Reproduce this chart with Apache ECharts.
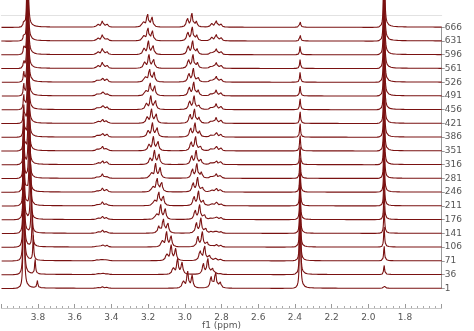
<!DOCTYPE html>
<html>
<head>
<meta charset="utf-8">
<script src="https://cdn.jsdelivr.net/npm/echarts@6/dist/echarts.min.js"></script>
<style>html,body{margin:0;padding:0;background:#fff}#c{width:474px;height:331px}</style>
</head>
<body>
<div id="c"></div>
<script>
// ---- data ----
const traceLabels = ['1','36','71','106','141','176','211','246','281','316','351','386','421','456','491','526','561','596','631','666'];
const xTicks = [3.8,3.6,3.4,3.2,3.0,2.8,2.6,2.4,2.2,2.0,1.8];
// moving triplet A (centre ppm / centre height)
const groupAShift = [2.985,3.040,3.075,3.100,3.118,3.132,3.143,3.152,3.160,3.166,3.172,3.177,3.182,3.186,3.190,3.193,3.196,3.199,3.202,3.204];
const groupAHeight = [17,16,16,15.5,15.5,15,15,15,15,14.5,14.5,14.5,14.5,14,14,14,14,14,14,14];
// moving triplet B
const groupBShift = [2.833,2.875,2.893,2.905,2.913,2.920,2.926,2.931,2.935,2.939,2.942,2.945,2.948,2.950,2.952,2.954,2.956,2.958,2.960,2.962];
const groupBHeight = [17,16,16,15.5,15.5,15,15,15,15,14.5,14.5,14.5,14.5,14,14,14,14,14,14,14];
// static small triplet C at 2.83 ppm
const groupCHeight = [0,1.5,2.5,3,3.5,4,4.5,4.5,5,5,5.5,5.5,6,6,6,6.5,6.5,6.5,7,7];
// static small triplet at 3.45 ppm
const group345Height = [1.5,2,2.5,3,3.5,3.5,4,4,4.5,4.5,5,5,5,5.5,5.5,5.5,6,6,6,6];
// singlet 3.878 ppm (decreasing)
const peak3878Height = [160,150,140,125,110,95,80,65,50,40,32,26,20,16,13,11,9,8,7,6];
// moving singlet near 3.85 ppm (increasing)
const peakMovShift = [3.804,3.816,3.826,3.831,3.836,3.840,3.843,3.846,3.848,3.850,3.851,3.852,3.853,3.854,3.855,3.855,3.856,3.856,3.857,3.857];
const peakMovHeight = [8,16,25,35,45,55,65,75,85,95,100,105,110,115,120,125,130,135,140,145];
// singlet 2.372 ppm (decreasing)
const peak237Height = [110,85,68,55,45,38,32,27,23,20,17,15,13,12,11,10,9,8.5,8,7.5];
// singlet 1.914 ppm (increasing)
const peak191Height = [3.5,10,16,22,28,34,40,46,52,58,64,70,75,80,85,90,95,100,105,110];
const traceStep = 14; // intensity units between stacked traces

// ---- build line shapes ----
function lor(x, x0, h, w, disp) {
  const u = (x0 - x) / (w / 2);
  return h / (1 + u * u) + (disp || 0) * h * u / (1 + u * u);
}
function spectrum(i) {
  const pts = [];
  const J = 0.0245;
  for (let k = 0; k <= 2400; k++) {
    const x = 1.6 + k * 0.001;
    let y = 0;
    const a = groupAShift[i], ha = groupAHeight[i];
    y += lor(x, a + J, 0.45 * ha, 0.011) + lor(x, a, ha, 0.011) + lor(x, a - J, 0.75 * ha, 0.011);
    const b = groupBShift[i], hb = groupBHeight[i];
    y += lor(x, b + J, 0.7 * hb, 0.011) + lor(x, b, hb, 0.011) + lor(x, b - J, 0.4 * hb, 0.011);
    const hc = groupCHeight[i];
    y += lor(x, 2.855, 0.55 * hc, 0.011) + lor(x, 2.830, hc, 0.011) + lor(x, 2.805, 0.55 * hc, 0.011);
    const hs = group345Height[i];
    y += lor(x, 3.475, 0.55 * hs, 0.011) + lor(x, 3.450, hs, 0.011) + lor(x, 3.426, 0.6 * hs, 0.011);
    y += lor(x, 3.878, peak3878Height[i], 0.006, 0.06);
    y += lor(x, peakMovShift[i], peakMovHeight[i], 0.006, 0.06);
    y += lor(x, 2.372, peak237Height[i], 0.006, 0.05);
    y += lor(x, 1.914, peak191Height[i], 0.006, 0.08);
    pts.push([x, i * traceStep + y]);
  }
  return pts;
}

const series = traceLabels.map((name, i) => ({
  type: 'line', name, data: spectrum(i), showSymbol: false, symbol: 'none',
  xAxisIndex: 0, yAxisIndex: 0,
  clip: false, silent: true, animation: false, z: 2 + (traceLabels.length - i),
  lineStyle: { color: '#7a1212', width: 1.1 }
}));

const chart = echarts.init(document.getElementById('c'), null, { renderer: 'canvas' });
chart.setOption({
  animation: false,
  grid: [
    { left: 1.3, right: 32.3, top: 27.2, bottom: 42.7, containLabel: false, outerBoundsMode: 'none' },
    { left: 1.3, right: 32.3, top: 15, bottom: 23, containLabel: false, outerBoundsMode: 'none' }
  ],
  xAxis: [{
    gridIndex: 0, type: 'value', inverse: true, min: 1.6, max: 4.0, show: false
  }, {
    gridIndex: 1, type: 'value', inverse: true, min: 1.6, max: 4.0, interval: 0.2, position: 'bottom',
    axisLine: { show: true, lineStyle: { color: '#c8c8c8', width: 1 } },
    axisTick: { show: true, inside: true, length: 4, lineStyle: { color: '#999' } },
    minorTick: { show: true, splitNumber: 6, length: 2, lineStyle: { color: '#aaa' } },
    axisLabel: { showMinLabel: false, showMaxLabel: false, color: '#555', fontSize: 9, margin: 5,
      fontFamily: 'DejaVu Sans', formatter: v => xTicks.some(t => Math.abs(t - v) < 1e-6) ? v.toFixed(1) : '' },
    splitLine: { show: false },
    name: 'f1 (ppm)', nameLocation: 'middle', nameGap: 13, nameMoveOverlap: false,
    nameTextStyle: { color: '#555', fontSize: 9, fontFamily: 'DejaVu Sans' }
  }, {
    gridIndex: 1, type: 'value', inverse: true, min: 1.6, max: 4.0, position: 'top',
    axisLine: { show: true, lineStyle: { color: '#e2e2e2', width: 1 } },
    axisTick: { show: false }, axisLabel: { show: false }, splitLine: { show: false }
  }],
  yAxis: [{
    gridIndex: 0, type: 'value', position: 'right', min: 0, max: traceStep * (traceLabels.length - 1), interval: traceStep,
    axisLine: { show: true, lineStyle: { color: '#999' } },
    axisTick: { show: true, length: 3, lineStyle: { color: '#999' } },
    axisLabel: { color: '#555', fontSize: 9, margin: 3, fontFamily: 'DejaVu Sans',
      formatter: v => traceLabels[Math.round(v / traceStep)] || '' },
    splitLine: { show: false }
  }, {
    gridIndex: 1, type: 'value', min: 0, max: 1, show: false
  }],
  series
});
</script>
</body>
</html>
